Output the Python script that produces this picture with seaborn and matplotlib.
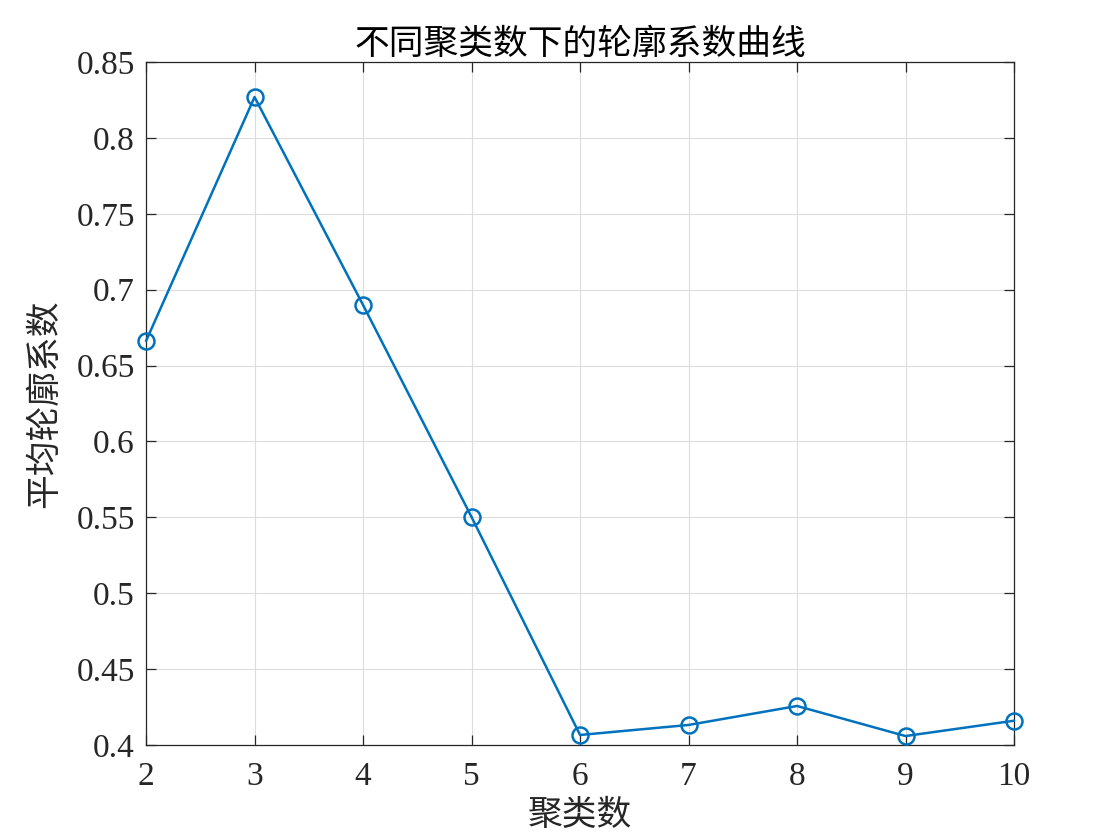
import numpy as np
import pandas as pd
import matplotlib
matplotlib.use('Agg')
import matplotlib.pyplot as plt
import seaborn as sns

# 聚类数 与 平均轮廓系数
cluster_num = [2, 3, 4, 5, 6, 7, 8, 9, 10]
silhouette = [0.6662, 0.8269, 0.6899, 0.5502, 0.4066, 0.4132, 0.4257, 0.4059, 0.4160]
y_ticks = [0.4, 0.45, 0.5, 0.55, 0.6, 0.65, 0.7, 0.75, 0.8, 0.85]
y_tick_labels = ['0.4', '0.45', '0.5', '0.55', '0.6', '0.65', '0.7', '0.75', '0.8', '0.85']

sns.set_style('ticks')
plt.rcParams['font.family'] = ['Liberation Serif', 'Noto Sans CJK SC', 'DejaVu Sans']
plt.rcParams['xtick.direction'] = 'in'
plt.rcParams['ytick.direction'] = 'in'

df = pd.DataFrame({'k': cluster_num, 's': silhouette})

fig = plt.figure(figsize=(11.2, 8.4), dpi=100)
ax = fig.add_axes([0.1304, 0.1131, 0.7750, 0.8131])

sns.lineplot(data=df, x='k', y='s', ax=ax, color='#0072BD', linewidth=1.8,
             marker='o', markersize=11.5, markerfacecolor='none',
             markeredgecolor='#0072BD', markeredgewidth=1.8, clip_on=False, zorder=5)

ax.set_xlim(2, 10)
ax.set_ylim(0.4, 0.85)
ax.set_xticks(cluster_num)
ax.set_yticks(y_ticks)
ax.set_yticklabels(y_tick_labels)
ax.tick_params(axis='both', which='both', labelsize=24, length=7, width=0.9,
               color='#262626', labelcolor='#262626', top=True, right=True)
ax.tick_params(axis='x', pad=12)
ax.tick_params(axis='y', pad=8)
ax.grid(True, color='#dcdcdc', linewidth=0.8)
for sp in ax.spines.values():
    sp.set_visible(True)
    sp.set_color('#262626')
    sp.set_linewidth(0.9)

cjk = ['Noto Sans CJK SC', 'DejaVu Sans']
ax.set_title('不同聚类数下的轮廓系数曲线', fontsize=25, family=cjk, color='black', pad=4)
ax.set_xlabel('聚类数', fontsize=25, family=cjk, color='#262626', labelpad=4)
ax.set_ylabel('平均轮廓系数', fontsize=25, family=cjk, color='#262626', labelpad=10)

plt.savefig('out.png', dpi=100)
